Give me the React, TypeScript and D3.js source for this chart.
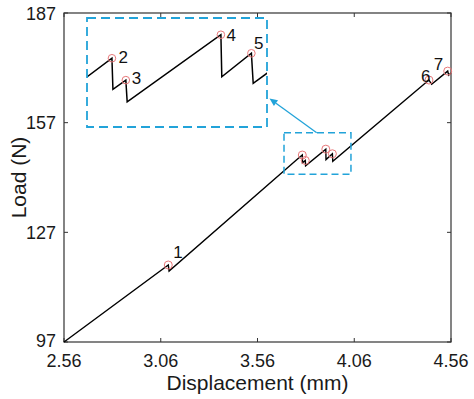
import React from "react";
import * as d3 from "d3";

const displacement = [2.56, 3.099, 3.103, 3.764, 3.7915, 3.7926, 3.807, 3.8085, 3.913, 3.914, 3.947, 3.949, 4.446, 4.46, 4.543, 4.548, 4.56];
const load = [97, 118.06, 116.4, 146.9, 148.15, 146.03, 146.66, 145.18, 149.75, 146.89, 148.49, 146.44, 168.66, 167.5, 171.1, 170.0, 170.6];
const peakIndex = [1, 4, 6, 8, 10, 12, 14];
const peakLabels = ["1", "2", "3", "4", "5", "6", "7"];
const xTicks = [2.56, 3.06, 3.56, 4.06, 4.56];
const yTicks = [97, 127, 157, 187];
const xDomain = [2.56, 4.56];
const yDomain = [97, 187];
const insetXDomain = [3.7637, 3.9644];
const insetYDomain = [143.47, 150.89];
const zoomXDomain = [3.697, 4.043];
const zoomYDomain = [142.87, 154.25];

const W = 474, H = 399;
const M = { left: 64, right: 451, top: 13, bottom: 342 };
const INSET = { x0: 87, x1: 267, y0: 18, y1: 127 };
const FONT = "'Liberation Sans', Arial, Helvetica, sans-serif";
const BLUE = "#22a3d9";
const RED = "#e8787a";

// label placement for each peak: [dx, dy, anchor, inInset]
const labelOffsets: [number, number, string, boolean][] = [
  [5, -7, "start", false],
  [6.5, 5, "start", true],
  [6, 3.5, "start", true],
  [5.5, 6.5, "start", true],
  [2.5, -4, "start", true],
  [1.5, 2, "end", false],
  [-4.5, -1, "end", false],
];

export default function App() {
  const x = d3.scaleLinear().domain(xDomain).range([M.left, M.right]);
  const y = d3.scaleLinear().domain(yDomain).range([M.bottom, M.top]);
  const xi = d3.scaleLinear().domain(insetXDomain).range([INSET.x0, INSET.x1]);
  const yi = d3.scaleLinear().domain(insetYDomain).range([INSET.y1, INSET.y0]);
  const pts = displacement.map((d, i) => [d, load[i]] as [number, number]);
  const mainLine = d3.line<[number, number]>().x((d) => x(d[0])).y((d) => y(d[1]))(pts) || "";
  const insetLine = d3.line<[number, number]>().x((d) => xi(d[0])).y((d) => yi(d[1]))(pts) || "";

  const zx0 = x(zoomXDomain[0]), zx1 = x(zoomXDomain[1]);
  const zy0 = y(zoomYDomain[1]), zy1 = y(zoomYDomain[0]);
  const arrowStart: [number, number] = [316.7, zy0];
  const arrowEnd: [number, number] = [INSET.x1 + 2.5, 98.5];
  const ang = Math.atan2(arrowEnd[1] - arrowStart[1], arrowEnd[0] - arrowStart[0]);
  const ah = 8, aw = 3.5;
  const bx = arrowEnd[0] - ah * Math.cos(ang), by = arrowEnd[1] - ah * Math.sin(ang);
  const head = `M${arrowEnd[0]},${arrowEnd[1]} L${bx + aw * Math.sin(ang)},${by - aw * Math.cos(ang)} L${bx - aw * Math.sin(ang)},${by + aw * Math.cos(ang)} Z`;

  return (
    <svg width={W} height={H} style={{ position: "absolute", left: 0, top: 0, background: "#fff" }} fontFamily={FONT}>
      <defs>
        <clipPath id="insetClip">
          <rect x={INSET.x0} y={INSET.y0} width={INSET.x1 - INSET.x0} height={INSET.y1 - INSET.y0} />
        </clipPath>
      </defs>
      {xTicks.map((t) => (
        <g key={"x" + t}>
          <line x1={x(t)} x2={x(t)} y1={M.bottom} y2={M.bottom - 4} stroke="#333" strokeWidth={1} />
          <line x1={x(t)} x2={x(t)} y1={M.top} y2={M.top + 4} stroke="#333" strokeWidth={1} />
          <text x={x(t)} y={M.bottom + 25} textAnchor="middle" fontSize={18} fill="#1a1a1a">{t.toFixed(2)}</text>
        </g>
      ))}
      {yTicks.map((t) => (
        <g key={"y" + t}>
          <line x1={M.left} x2={M.left + 4} y1={y(t)} y2={y(t)} stroke="#333" strokeWidth={1} />
          <line x1={M.right} x2={M.right - 4} y1={y(t)} y2={y(t)} stroke="#333" strokeWidth={1} />
          <text x={M.left - 8} y={y(t) + 6.5 - (t === yDomain[0] ? 2 : 0)} textAnchor="end" fontSize={18} fill="#1a1a1a">{t}</text>
        </g>
      ))}
      <rect x={M.left} y={M.top} width={M.right - M.left} height={M.bottom - M.top} fill="none" stroke="#333" strokeWidth={1.2} />
      <text x={(M.left + M.right) / 2} y={390} textAnchor="middle" fontSize={21} fill="#1a1a1a">Displacement (mm)</text>
      <text transform={`translate(26,${(M.top + M.bottom) / 2}) rotate(-90)`} textAnchor="middle" fontSize={21} fill="#1a1a1a">Load (N)</text>

      <path d={mainLine} fill="none" stroke="#000" strokeWidth={1.4} />
      {peakIndex.map((pi, k) => (
        <circle key={"c" + k} cx={x(displacement[pi])} cy={y(load[pi])} r={4} fill="none" stroke={RED} strokeWidth={1} />
      ))}
      {peakIndex.map((pi, k) =>
        labelOffsets[k][3] ? null : (
          <text key={"l" + k} x={x(displacement[pi]) + labelOffsets[k][0]} y={y(load[pi]) + labelOffsets[k][1]} textAnchor={labelOffsets[k][2]} fontSize={17} fill="#111">{peakLabels[k]}</text>
        )
      )}

      <rect x={zx0} y={zy0} width={zx1 - zx0} height={zy1 - zy0} fill="none" stroke={BLUE} strokeWidth={1.5} strokeDasharray="7,4" />
      <line x1={arrowStart[0]} y1={arrowStart[1]} x2={bx} y2={by} stroke={BLUE} strokeWidth={1.3} />
      <path d={head} fill={BLUE} />

      <path d={insetLine} fill="none" stroke="#000" strokeWidth={1.5} clipPath="url(#insetClip)" />
      {peakIndex.map((pi, k) =>
        labelOffsets[k][3] ? (
          <g key={"i" + k}>
            <circle cx={xi(displacement[pi])} cy={yi(load[pi])} r={3.8} fill="none" stroke={RED} strokeWidth={1} />
            <text x={xi(displacement[pi]) + labelOffsets[k][0]} y={yi(load[pi]) + labelOffsets[k][1]} textAnchor={labelOffsets[k][2]} fontSize={17} fill="#111">{peakLabels[k]}</text>
          </g>
        ) : null
      )}
      <rect x={INSET.x0} y={INSET.y0} width={INSET.x1 - INSET.x0} height={INSET.y1 - INSET.y0} fill="none" stroke={BLUE} strokeWidth={1.8} strokeDasharray="9,5" />
    </svg>
  );
}
